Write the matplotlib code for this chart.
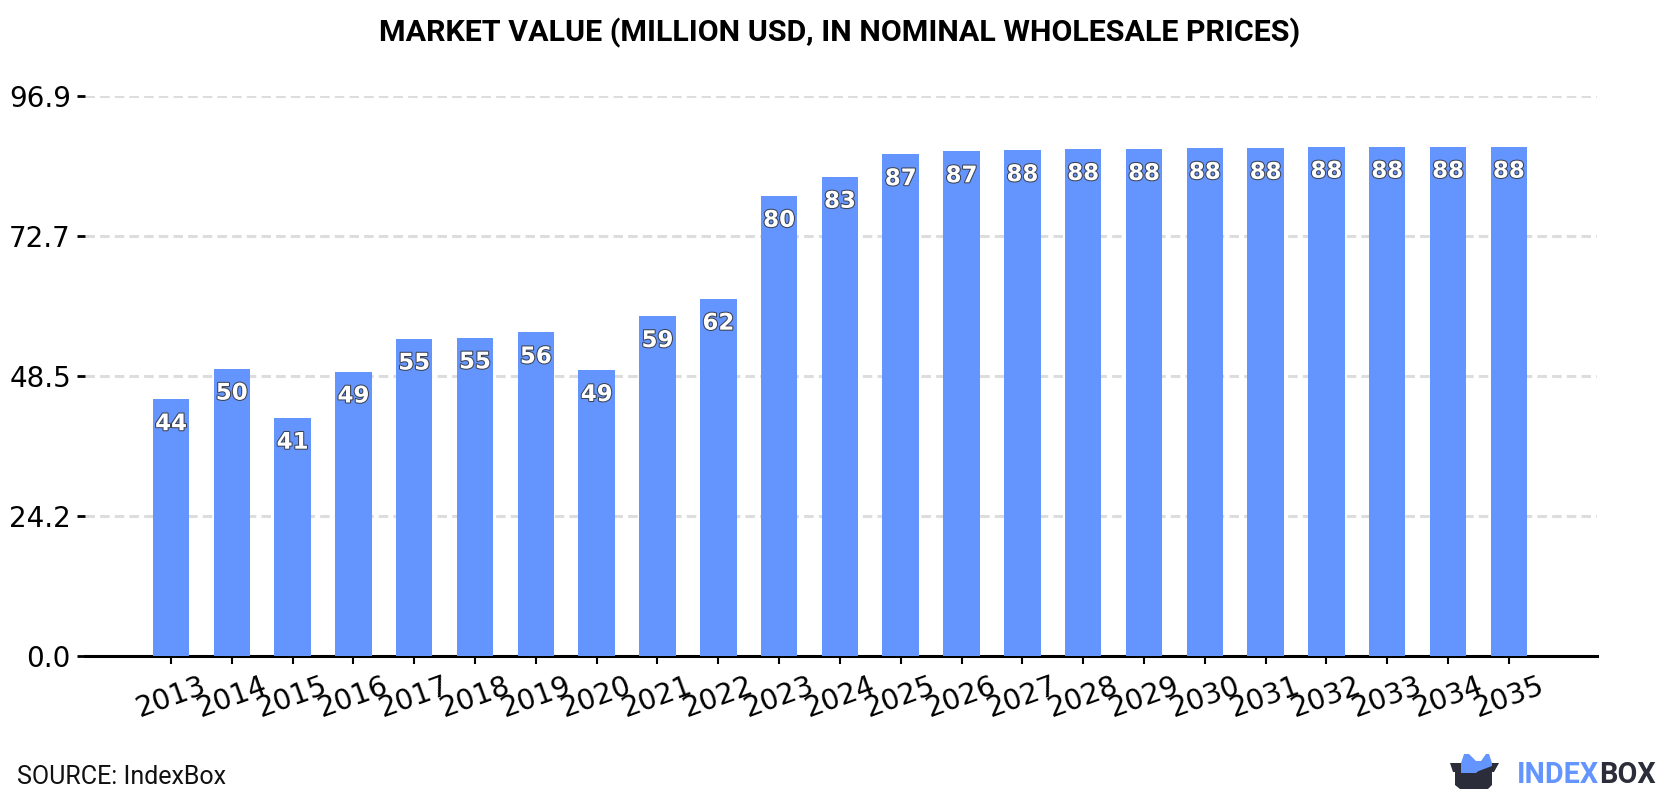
import matplotlib
matplotlib.use("Agg")
import matplotlib.patheffects as pe
from matplotlib import pyplot as plt
from matplotlib.patches import Polygon

years = [str(y) for y in range(2013, 2036)]
values = [44.4, 49.7, 41.2, 49.2, 54.9, 55.1, 56.0, 49.45, 58.8, 61.8, 79.6, 82.9,
          86.8, 87.3, 87.5, 87.7, 87.7, 87.9, 87.9, 88.1, 88.1, 88.1, 88.1]
y_ticks = [0.0, 24.2, 48.5, 72.7, 96.9]

BLUE = "#6495ff"
DARK = "#2b2d3a"
W, H = 1680, 800

fig = plt.figure(figsize=(W / 100, H / 100), dpi=100, facecolor="white")
ax = fig.add_axes([85 / W, 1 - 656 / H, (1597 - 85) / W, 560 / H])

ax.bar(years, values, width=0.6, color=BLUE, zorder=3)
ax.set_xlim(-1.414, 23.45)
ax.set_ylim(0, 96.9)

ax.set_yticks(y_ticks)
ax.set_yticklabels([f"{t:.1f}" for t in y_ticks])
ax.grid(axis="y", color="#dddddd", linestyle=(0, (3.1, 1.7)), linewidth=2.2, zorder=0)
ax.tick_params(axis="y", labelsize=20, length=5.8, width=2, pad=4.3)
ax.tick_params(axis="x", labelsize=20.5, length=6, width=1.5, pad=5)
plt.setp(ax.get_xticklabels(), rotation=20)

for side in ["top", "right", "left"]:
    ax.spines[side].set_visible(False)
ax.spines["bottom"].set_linewidth(2.2)

for i, v in enumerate(values):
    ax.annotate(f"{v:.0f}", (i, v), xytext=(0, -17.5), textcoords="offset points",
                ha="center", va="center", color="white", fontsize=16.5, fontweight="bold",
                zorder=4, path_effects=[pe.withStroke(linewidth=1.5, foreground="#3d4250")])

fig.text(0.5, 1 - 33 / H, "MARKET VALUE (MILLION USD, IN NOMINAL WHOLESALE PRICES)",
         family="Roboto", fontweight="bold", fontsize=21.9, ha="center", va="center")
fig.text(17 / W, 1 - 777 / H, "SOURCE: IndexBox", family="Roboto", fontsize=18,
         ha="left", va="center", color="#111111")

# logo: a box with two blue flaps, then the wordmark
flaps = [(1461, 763), (1464, 754), (1469, 754), (1476, 761), (1481, 761), (1486, 754),
         (1489, 754), (1492, 763), (1492, 766), (1476, 772), (1461, 772)]
box = [(1450, 763), (1499, 763), (1494, 772), (1492, 772), (1492, 785), (1488, 789),
       (1460, 789), (1455, 785), (1455, 772), (1453, 772)]
notch = [(1461, 763), (1487, 763), (1476, 773), (1461, 773)]
for pts, col in [(box, DARK), (flaps, BLUE), (notch, BLUE)]:
    fig.add_artist(Polygon([(x / W, 1 - y / H) for x, y in pts], closed=True, color=col,
                           transform=fig.transFigure, linewidth=0))

t1 = fig.text(1517 / W, 1 - 775 / H, "INDEX", family="Roboto", fontweight="bold",
              fontsize=20.7, color=BLUE, ha="left", va="center")
fig.canvas.draw()
x1 = t1.get_window_extent().x1
fig.text(x1 / W, 1 - 775 / H, "BOX", family="Roboto", fontweight="bold", fontsize=20.7,
         color=DARK, ha="left", va="center")

fig.savefig("out.png", dpi=100)
